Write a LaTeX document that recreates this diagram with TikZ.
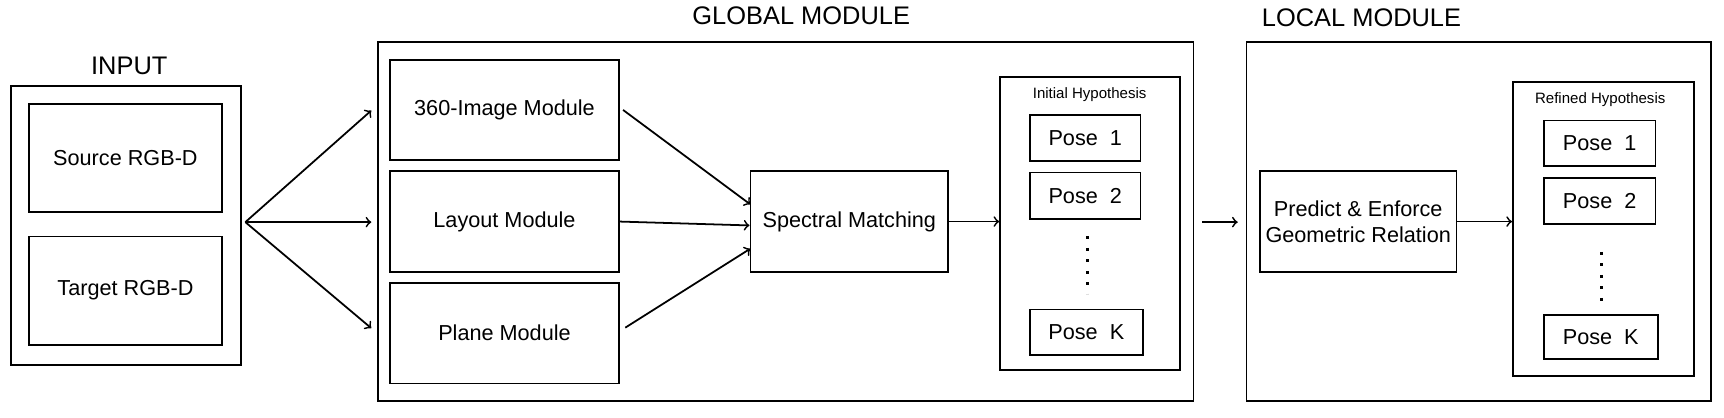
\documentclass[tikz,border=0pt]{standalone}
\usepackage{fontspec}
\setmainfont{Liberation Sans}
\tikzset{
	box/.style={draw,thick,inner sep=0pt,align=center,font=\fontsize{9.8}{11.5}\selectfont},
	ttl/.style={font=\fontsize{11.5}{13}\selectfont},
	arr/.style={->,thick}
}
\begin{document}
\begin{tikzpicture}[x=0.5pt,y=0.5pt,yscale=-1]
			\useasboundingbox (0,0) rectangle (1560,378);
			% input
			\node[ttl] (intitle) at (117,60) {INPUT};
			\node[box,minimum width=104pt,minimum height=126pt] (inbox) at (114,204) {};
			\node[box,minimum width=87.5pt,minimum height=49pt] (src) at (113.5,143) {Source RGB-D};
			\node[box,minimum width=87.5pt,minimum height=49pt] (tgt) at (113.5,263) {Target RGB-D};
			\coordinate (split) at (222,201);
			% global module
			\node[ttl] (gtitle) at (725,14) {GLOBAL MODULE};
			\node[box,minimum width=369pt,minimum height=162.5pt] (gbox) at (711,200.5) {};
			\node[box,minimum width=103.5pt,minimum height=45.5pt] (img) at (456.5,99.5) {360-Image Module};
			\node[box,minimum width=103.5pt,minimum height=45.5pt] (lay) at (456.5,200.5) {Layout Module};
			\node[box,minimum width=103.5pt,minimum height=45.5pt] (pln) at (456.5,301.5) {Plane Module};
			\node[box,minimum width=89.5pt,minimum height=45.5pt] (spec) at (768.5,200.5) {Spectral Matching};
			\node[box,minimum width=81.5pt,minimum height=132.5pt] (init) at (986.5,202.5) {};
			\node[font=\fontsize{6.8}{7}\selectfont] (inittitle) at (986,86) {Initial Hypothesis};
			\node[box,minimum width=50pt,minimum height=21pt] (ip1) at (982,125) {Pose\ \ 1};
			\node[box,minimum width=50pt,minimum height=21pt] (ip2) at (982,177) {Pose\ \ 2};
			\node[box,minimum width=51pt,minimum height=20.5pt] (ipk) at (983,300.5) {Pose\ \ K};
			\draw[line width=1.3pt,dash pattern=on 1.2pt off 4pt] (984,214) -- (984,266);
			\draw[arr] (split) -- (336,100);
			\draw[arr] (split) -- (336,201);
			\draw[arr] (split) -- (336,297);
			\draw[arr] (img.east) ++(3,0) -- (679,185);
			\draw[arr] (lay.east) -- (spec.west |- 0,204);
			\draw[arr] (pln.east) ++(5,-5) -- (679,225);
			\draw[arr] (spec.east) -- (init.west |- spec.east);
			% local module
			\coordinate (gout) at (1088,201);
			\node[ttl] (ltitle) at (1232,16) {LOCAL MODULE};
			\node[box,minimum width=210pt,minimum height=162.5pt] (lbox) at (1338,200.5) {};
			\node[box,minimum width=89pt,minimum height=45.5pt] (pred) at (1229,200.5) {Predict \& Enforce\\Geometric Relation};
			\node[box,minimum width=82pt,minimum height=133pt] (ref) at (1451,207) {};
			\node[font=\fontsize{6.8}{7}\selectfont] (reftitle) at (1448,90) {Refined Hypothesis};
			\node[box,minimum width=50.5pt,minimum height=20.5pt] (rp1) at (1447.5,129.5) {Pose\ \ 1};
			\node[box,minimum width=50.5pt,minimum height=21pt] (rp2) at (1447.5,182) {Pose\ \ 2};
			\node[box,minimum width=51.5pt,minimum height=20pt] (rpk) at (1448.5,305) {Pose\ \ K};
			\draw[line width=1.3pt,dash pattern=on 1.2pt off 4pt] (1449,228) -- (1449,272);
			\draw[arr] (gout) -- (1120,201);
			\draw[arr] (pred.east) -- (ref.west |- pred.east);
\end{tikzpicture}
\end{document}
